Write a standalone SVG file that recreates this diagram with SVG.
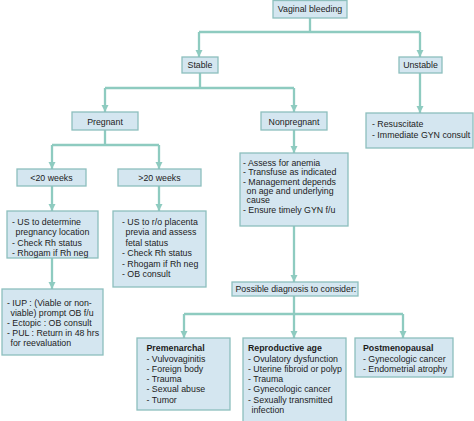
<svg xmlns="http://www.w3.org/2000/svg" width="474" height="421" viewBox="0 0 474 421">
<defs>
<style>
.box{fill:#d4e6f0;stroke:#8dbfbd;stroke-width:1.3}
.c{fill:none;stroke:#8ecbc0;stroke-width:2.3}
text{font-family:"Liberation Sans",Arial,sans-serif;font-size:8.8px;fill:#1c1c1c}
.m{text-anchor:middle}
.b{font-weight:bold}
</style>
<marker id="a" markerUnits="userSpaceOnUse" markerWidth="8" markerHeight="8" refX="7" refY="3.5" orient="auto">
<path d="M0,0 L7,3.5 L0,7 Z" fill="#8ecbc0"/>
</marker>
</defs>
<rect width="474" height="421" fill="#ffffff"/>
<g id="connectors">
<path class="c" d="M310,18 V32 M199,32 H420"/>
<path class="c" d="M199,32 V57" marker-end="url(#a)"/>
<path class="c" d="M420,32 V57" marker-end="url(#a)"/>
<path class="c" d="M200,73 V88 M105,88 H294"/>
<path class="c" d="M105,88 V112" marker-end="url(#a)"/>
<path class="c" d="M294,88 V112" marker-end="url(#a)"/>
<path class="c" d="M420,73 V113" marker-end="url(#a)"/>
<path class="c" d="M105,130 V145 M52,145 H159"/>
<path class="c" d="M52,145 V169" marker-end="url(#a)"/>
<path class="c" d="M159,145 V169" marker-end="url(#a)"/>
<path class="c" d="M294,130 V153" marker-end="url(#a)"/>
<path class="c" d="M52,186 V211" marker-end="url(#a)"/>
<path class="c" d="M159,186 V211" marker-end="url(#a)"/>
<path class="c" d="M52,258 V289" marker-end="url(#a)"/>
<path class="c" d="M294,226 V282" marker-end="url(#a)"/>
<path class="c" d="M294,296 V314 M184,314 H403"/>
<path class="c" d="M184,314 V338" marker-end="url(#a)"/>
<path class="c" d="M294,314 V338" marker-end="url(#a)"/>
<path class="c" d="M403,314 V338" marker-end="url(#a)"/>
</g>
<g id="vaginal-bleeding"><rect class="box" x="273" y="0.5" width="74" height="17.5"/><text class="m" x="310" y="12">Vaginal bleeding</text></g>
<g id="stable"><rect class="box" x="182" y="57" width="36" height="16"/><text class="m" x="200" y="68">Stable</text></g>
<g id="unstable"><rect class="box" x="399" y="57" width="43" height="16"/><text class="m" x="420.5" y="68">Unstable</text></g>
<g id="pregnant"><rect class="box" x="72" y="112" width="66" height="18"/><text class="m" x="105" y="124.5">Pregnant</text></g>
<g id="nonpregnant"><rect class="box" x="261" y="112" width="66" height="18"/><text class="m" x="294" y="124.5">Nonpregnant</text></g>
<g id="unstable-actions"><rect class="box" x="366" y="113" width="107" height="35"/>
<text x="372" y="127">- Resuscitate</text><text x="372" y="137.5">- Immediate GYN consult</text></g>
<g id="lt20"><rect class="box" x="17" y="169" width="69" height="17"/><text class="m" x="51.5" y="180.5">&lt;20 weeks</text></g>
<g id="gt20"><rect class="box" x="118" y="169" width="83" height="17"/><text class="m" x="159.5" y="180.5">&gt;20 weeks</text></g>
<g id="lt20-actions"><rect class="box" x="7" y="211" width="91" height="47"/>
<text x="12" y="224.5">- US to determine</text><text x="15.5" y="235">pregnancy location</text><text x="12" y="245.5">- Check Rh status</text><text x="12" y="256">- Rhogam if Rh neg</text></g>
<g id="gt20-actions"><rect class="box" x="113" y="211" width="93" height="76"/>
<text x="122" y="224.5">- US to r/o placenta</text><text x="125.5" y="235">previa and assess</text><text x="125.5" y="245.5">fetal status</text><text x="122" y="256">- Check Rh status</text><text x="122" y="266.5">- Rhogam if Rh neg</text><text x="122" y="277">- OB consult</text></g>
<g id="nonpregnant-actions"><rect class="box" x="240" y="153" width="108" height="73"/>
<text x="243" y="166">- Assess for anemia</text><text x="243" y="175.3">- Transfuse as indicated</text><text x="243" y="184.6">- Management depends</text><text x="246.5" y="193.9">on age and underlying</text><text x="246.5" y="203.2">cause</text><text x="243" y="212.5">- Ensure timely GYN f/u</text></g>
<g id="iup"><rect class="box" x="2" y="289" width="101" height="66"/>
<text x="7" y="305.5">- IUP : (Viable or non-</text><text x="10.5" y="315.5">viable) prompt OB f/u</text><text x="7" y="325.5">- Ectopic : OB consult</text><text x="7" y="335.8">- PUL : Return in 48 hrs</text><text x="10.5" y="346">for reevaluation</text></g>
<g id="possible-diagnosis"><rect class="box" x="232" y="282" width="126" height="14"/><text x="235.5" y="292.3">Possible diagnosis to consider:</text></g>
<g id="premenarchal"><rect class="box" x="137" y="338" width="93" height="72"/>
<text class="b" x="146.5" y="351">Premenarchal</text><text x="146.5" y="361.5">- Vulvovaginitis</text><text x="146.5" y="371.8">- Foreign body</text><text x="146.5" y="382.1">- Trauma</text><text x="146.5" y="392.4">- Sexual abuse</text><text x="146.5" y="402.7">- Tumor</text></g>
<g id="reproductive-age"><rect class="box" x="243" y="338" width="103" height="86"/>
<text class="b" x="248" y="351">Reproductive age</text><text x="248" y="361.5">- Ovulatory dysfunction</text><text x="248" y="371.8">- Uterine fibroid or polyp</text><text x="248" y="382.1">- Trauma</text><text x="248" y="392.4">- Gynecologic cancer</text><text x="248" y="402.7">- Sexually transmitted</text><text x="251.5" y="413">infection</text></g>
<g id="postmenopausal"><rect class="box" x="355" y="338" width="98" height="39"/>
<text class="b" x="363" y="351">Postmenopausal</text><text x="363" y="361.5">- Gynecologic cancer</text><text x="363" y="371.8">- Endometrial atrophy</text></g>
</svg>
